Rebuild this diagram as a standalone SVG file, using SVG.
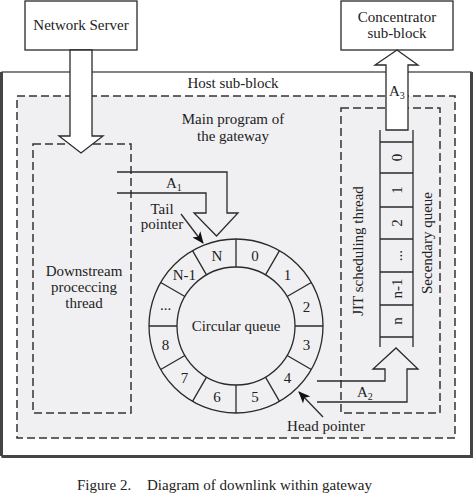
<svg xmlns="http://www.w3.org/2000/svg" width="474" height="495" viewBox="0 0 474 495">
<style>
text{font-family:"Liberation Serif","Times New Roman",serif;font-size:15px;fill:#222}
.c{text-anchor:middle}
.s{fill:none;stroke:#2a2a2a;stroke-width:1.3}
.d{stroke:#333;stroke-width:1.5;stroke-dasharray:8 4}
.w{fill:#fff;stroke:#2a2a2a;stroke-width:1.3}
.sub{font-size:10px}
</style>
<defs>
<marker id="ah" markerUnits="userSpaceOnUse" markerWidth="12" markerHeight="10" viewBox="0 0 12 10" refX="11" refY="5" orient="auto">
<path d="M0,0 L12,5 L0,10 L3,5 Z" fill="#111"/>
</marker>
</defs>
<rect width="474" height="495" fill="#fff"/>

<g id="host">
<rect x="2" y="72" width="469" height="384" fill="#fff" stroke="#333" stroke-width="1.2"/>
<path d="M1.5,72 V456 M471.5,72 V457 M1.5,456.5 H473" fill="none" stroke="#444" stroke-width="3"/>
<text class="c" x="233" y="88">Host sub-block</text>
</g>

<g id="main">
<rect class="d" x="17" y="96" width="438" height="342" fill="#f0f0f2"/>
<text class="c" x="233" y="124">Main program of</text>
<text class="c" x="233" y="141">the gateway</text>
</g>

<g id="downstream">
<rect class="d" x="33" y="144" width="98" height="269" fill="none"/>
<text class="c" x="84" y="276">Downstream</text>
<text class="c" x="84" y="292">proceccing</text>
<text class="c" x="84" y="308">thread</text>
</g>

<g id="secondary">
<rect class="d" x="341" y="108" width="99" height="305" fill="none"/>
<text class="c" transform="translate(363,251) rotate(-90)">JIT scheduling thread</text>
<text class="c" transform="translate(432,243) rotate(-90)">Secendary queue</text>
<path class="s" d="M380,130 V347 M413,130 V347 M380,142 H413 M380,173 H413 M380,207 H413 M380,239 H413 M380,272 H413 M380,305 H413 M380,337 H413"/>
<g class="c">
<text transform="translate(396.5,157.5) rotate(-90)" dy="0.35em">0</text>
<text transform="translate(396.5,190) rotate(-90)" dy="0.35em">1</text>
<text transform="translate(396.5,223) rotate(-90)" dy="0.35em">2</text>
<text transform="translate(396.5,255.5) rotate(-90)" dy="0.35em">...</text>
<text transform="translate(396.5,288.5) rotate(-90)" dy="0.35em">n-1</text>
<text transform="translate(396.5,321) rotate(-90)" dy="0.35em">n</text>
</g>
</g>

<g id="circular">
<circle class="s" cx="236" cy="326" r="87"/>
<circle class="s" cx="236" cy="326" r="59"/>
<path class="s" d="M236,267 L236,239 M265.5,274.9 L279.5,250.7 M287.1,296.5 L311.3,282.5 M295,326 L323,326 M287.1,355.5 L311.3,369.5 M265.5,377.1 L279.5,401.3 M236,385 L236,413 M206.5,377.1 L192.5,401.3 M184.9,355.5 L160.7,369.5 M177,326 L149,326 M184.9,296.5 L160.7,282.5 M206.5,274.9 L192.5,250.7"/>
<text class="c" x="236" y="331">Circular queue</text>
<g class="c">
<text x="255" y="255.5" dy="0.35em">0</text>
<text x="287.6" y="274.4" dy="0.35em">1</text>
<text x="306.5" y="307.1" dy="0.35em">2</text>
<text x="306.5" y="344.9" dy="0.35em">3</text>
<text x="287.6" y="377.6" dy="0.35em">4</text>
<text x="255" y="396.5" dy="0.35em">5</text>
<text x="217" y="396.5" dy="0.35em">6</text>
<text x="184.4" y="377.6" dy="0.35em">7</text>
<text x="165.5" y="344.9" dy="0.35em">8</text>
<text x="165.5" y="305" dy="0.35em">...</text>
<text x="184.4" y="274.4" dy="0.35em">N-1</text>
<text x="217" y="255.5" dy="0.35em">N</text>
</g>
</g>

<g id="network-server">
<rect class="w" x="25" y="1" width="112" height="49"/>
<text class="c" x="81" y="30">Network Server</text>
</g>

<g id="concentrator">
<rect class="w" x="341" y="1" width="112" height="49"/>
<text class="c" x="397" y="22">Concentrator</text>
<text class="c" x="397" y="38">sub-block</text>
</g>

<g id="connectors">
<polygon class="w" points="70,50 92,50 92,136 103,136 81,153 59,136 70,136"/>
<polygon class="w" points="386,130 408,130 408,65 418,65 397,50 375,65 386,65"/>
<text x="389" y="96" font-size="14">A<tspan class="sub" dy="3">3</tspan></text>
<path class="s" d="M117,172 H227 V213 H238 L216.5,236 L194,213 H206 V193 H117"/>
<text x="166" y="188" font-size="14">A<tspan class="sub" dy="3">1</tspan></text>
<path class="s" d="M317,381 H385 V369 H373 L396,348 L418,369 H407 V402 H317"/>
<text x="357" y="397" font-size="14">A<tspan class="sub" dy="3">2</tspan></text>
<line class="s" x1="181" y1="214" x2="203" y2="243" marker-end="url(#ah)"/>
<text class="c" x="162" y="214">Tail</text>
<text class="c" x="162" y="229">pointer</text>
<line class="s" x1="323" y1="417" x2="299" y2="392" marker-end="url(#ah)"/>
<text class="c" x="326" y="431">Head pointer</text>
</g>

<g id="caption">
<text x="77" y="490" font-size="16">Figure 2.</text>
<text x="147" y="490" font-size="16">Diagram of downlink within gateway</text>
</g>
</svg>
